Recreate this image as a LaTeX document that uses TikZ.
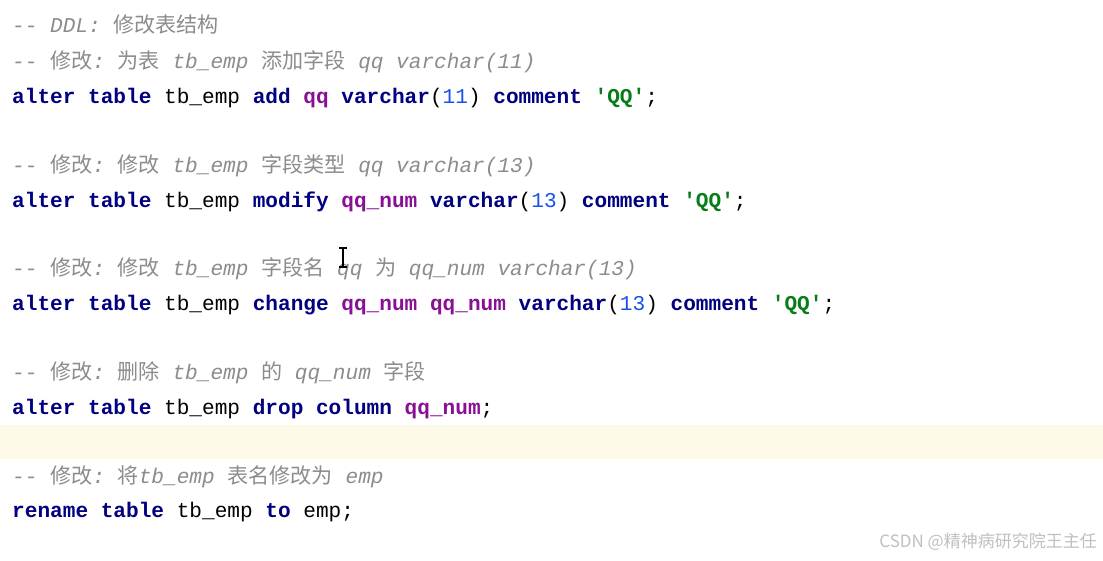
\documentclass[tikz,border=0pt]{standalone}
\usepackage{fontspec}
\setmonofont{Liberation Mono}
\newfontfamily\cjk{Noto Sans CJK SC}
\definecolor{kw}{RGB}{0,0,128}
\definecolor{fld}{RGB}{135,16,148}
\definecolor{num}{RGB}{23,80,235}
\definecolor{str}{RGB}{6,125,23}
\definecolor{cmt}{RGB}{140,140,140}
\definecolor{band}{RGB}{253,250,234}
\newcommand{\K}[1]{{\bfseries\color{kw}#1}}
\newcommand{\F}[1]{{\bfseries\color{fld}#1}}
\newcommand{\N}[1]{{\color{num}#1}}
\newcommand{\Sq}[1]{{\bfseries\color{str}#1}}
\newcommand{\C}[1]{{\cjk\upshape #1}}
\tikzset{code/.style={anchor=base west,inner sep=0pt,font=\ttfamily\fontsize{21.1}{24}\selectfont,text=black},
comment/.style={code,font=\ttfamily\itshape\fontsize{21.1}{24}\selectfont,text=cmt}}
\begin{document}
\begin{tikzpicture}[x=1pt,y=-1pt]
\useasboundingbox[fill=white] (0,0) rectangle (1103,560);
\fill[band] (0,425) rectangle (1103,459);
\node[comment] (c1) at (12,32) {-- DDL: \C{修改表结构}};
\node[comment] (c2) at (12,68) {-- \C{修改}: \C{为表} tb\_emp \C{添加字段} qq varchar(11)};
\node[code] (l1) at (12,103) {\K{alter table} tb\_emp \K{add} \F{qq} \K{varchar}(\N{11}) \K{comment} \Sq{'QQ'};};
\node[comment] (c3) at (12,172) {-- \C{修改}: \C{修改} tb\_emp \C{字段类型} qq varchar(13)};
\node[code] (l2) at (12,207) {\K{alter table} tb\_emp \K{modify} \F{qq\_num} \K{varchar}(\N{13}) \K{comment} \Sq{'QQ'};};
\node[comment] (c4) at (12,275) {-- \C{修改}: \C{修改} tb\_emp \C{字段名} qq \C{为} qq\_num varchar(13)};
\node[code] (l3) at (12,310) {\K{alter table} tb\_emp \K{change} \F{qq\_num} \F{qq\_num} \K{varchar}(\N{13}) \K{comment} \Sq{'QQ'};};
\node[comment] (c5) at (12,379) {-- \C{修改}: \C{删除} tb\_emp \C{的} qq\_num \C{字段}};
\node[code] (l4) at (12,414) {\K{alter table} tb\_emp \K{drop column} \F{qq\_num};};
\node[comment] (c6) at (12,483) {-- \C{修改}: \C{将}tb\_emp \C{表名修改为} emp};
\node[code] (l5) at (12,517) {\K{rename table} tb\_emp \K{to} emp;};
\draw[black,line width=1.2pt] (339,248)--(347,248) (343,248)--(343,267) (339,267)--(347,267);
\node[anchor=base east,inner sep=0pt,font=\cjk\fontsize{17}{20}\selectfont,text=cmt!55] (wm) at (1097,547) {CSDN @精神病研究院王主任};
\end{tikzpicture}
\end{document}
